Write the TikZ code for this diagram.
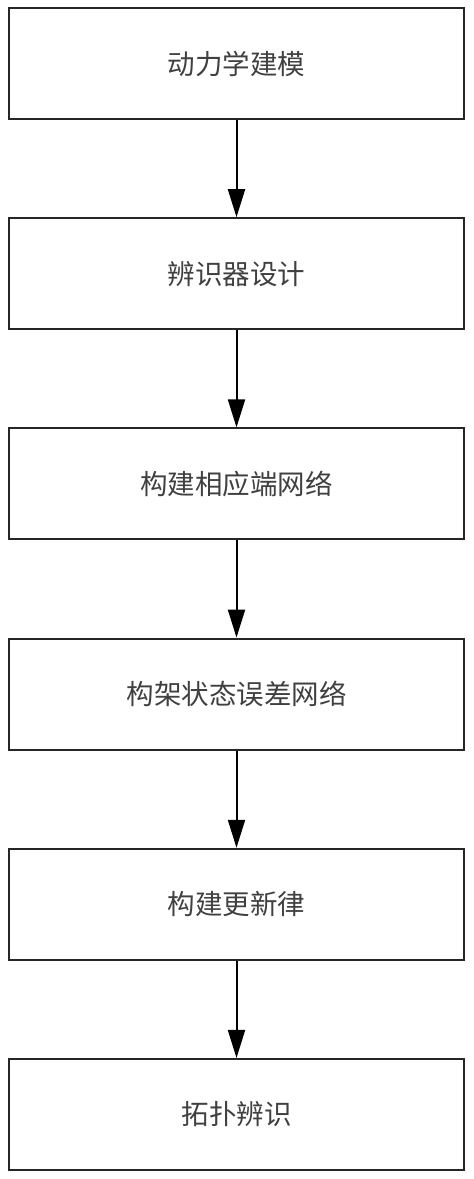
\documentclass[tikz,border=0pt]{standalone}
\usepackage{fontspec}
\newfontfamily\cjk{Noto Sans CJK SC}
\usetikzlibrary{arrows.meta}
\begin{document}
\begin{tikzpicture}[x=1pt,y=1pt,
  stepbox/.style={draw=black!85,line width=2pt,minimum width=455pt,minimum height=111pt,inner sep=0pt,
    font=\cjk\fontsize{27.5}{32}\selectfont,text=black!75},
  flow/.style={draw=black,line width=2pt,-{Triangle[width=17pt,length=28pt]}}]
\useasboundingbox (0,0) rectangle (474,1179);
\node[stepbox] (b1) at (236.5,1179-63.5) {动力学建模};
\node[stepbox] (b2) at (236.5,1179-273.7) {辨识器设计};
\node[stepbox] (b3) at (236.5,1179-483.9) {构建相应端网络};
\node[stepbox] (b4) at (236.5,1179-694.1) {构架状态误差网络};
\node[stepbox] (b5) at (236.5,1179-904.3) {构建更新律};
\node[stepbox] (b6) at (236.5,1179-1114.5) {拓扑辨识};
\draw[flow] (b1) -- (b2);
\draw[flow] (b2) -- (b3);
\draw[flow] (b3) -- (b4);
\draw[flow] (b4) -- (b5);
\draw[flow] (b5) -- (b6);
\end{tikzpicture}
\end{document}
